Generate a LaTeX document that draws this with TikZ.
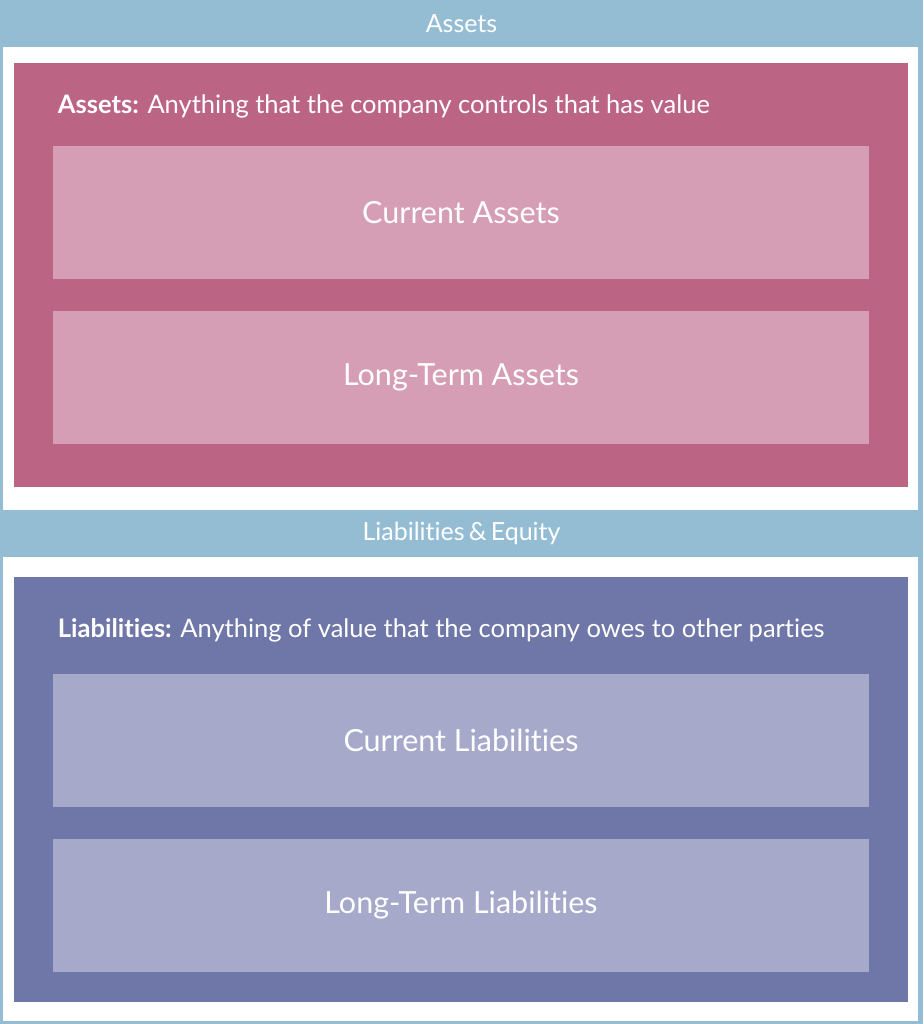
\documentclass[tikz,border=0pt]{standalone}
\usepackage{fontspec}
\setmainfont[Ligatures=NoCommon]{Lato}
\usepackage{tikz}

\definecolor{bandblue}{RGB}{148,189,212}
\definecolor{assetrose}{RGB}{188,100,132}
\definecolor{assetpink}{RGB}{213,158,180}
\definecolor{liabviolet}{RGB}{111,118,168}
\definecolor{liablilac}{RGB}{166,169,202}

\begin{document}
\begin{tikzpicture}[x=1pt,y=1pt,yscale=-1,xscale=1,
  headtext/.style={text=white,font=\fontsize{25}{27}\selectfont,inner sep=0.75pt},
  desctext/.style={text=white,font=\fontsize{25.5}{28}\selectfont,anchor=west,inner sep=0.75pt},
  itembox/.style={draw=none,minimum width=816pt,minimum height=133pt,inner sep=0pt,text=white,font=\fontsize{30.5}{33}\selectfont}]
%set diagram to the size of the reference
\useasboundingbox (0,0) rectangle (923,1024);

%Shape: Rectangle (background band)
\fill [bandblue] (0,0) rectangle (923,1024);
%Shape: Rectangle (white panels)
\fill [white] (3,47) rectangle (918,510);
\fill [white] (3,557) rectangle (918,1021);

%Shape: Rectangle (assets frame)
\fill [assetrose] (14,63) rectangle (908,487);
%Shape: Rectangle (liabilities frame)
\fill [liabviolet] (14,577) rectangle (908,1002);

% Text Node
\node [headtext] (hdA) at (461.5,23.5) {Assets};
% Text Node
\node [headtext] (hdL) at (461.5,533.5) {Liabilities\,\&\,Equity};

% Text Node
\node [desctext] (dsA) at (57,106) {\textbf{Assets:} Anything that the company controls that has value};
% Text Node
\node [desctext] (dsL) at (57,630) {\textbf{Liabilities:} Anything of value that the company owes to other parties};

%Shape: Rectangle
\node [itembox,fill=assetpink] (curA) at (461,212.5) {Current Assets};
%Shape: Rectangle
\node [itembox,fill=assetpink] (ltA) at (461,377.5) {Long-Term Assets};
%Shape: Rectangle
\node [itembox,fill=liablilac] (curL) at (461,740.5) {Current Liabilities};
%Shape: Rectangle
\node [itembox,fill=liablilac] (ltL) at (461,905.5) {Long-Term Liabilities};

\end{tikzpicture}
\end{document}
